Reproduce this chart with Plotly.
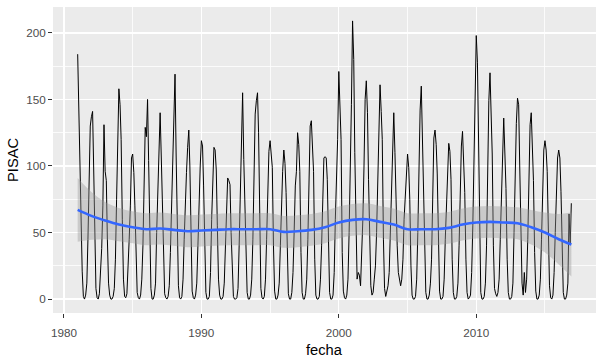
import datetime as dt
import plotly.graph_objects as go

# ---- data (monthly PISAC values, Jan..Dec per year, 1981-2016) ----
years = list(range(1981, 2017))
pisac = [
    184, 139, 104, 44, 21, 2, 0, 3, 12, 45, 89, 130,   # 1981
    137, 141, 100, 40, 8, 1, 0, 4, 18, 38, 70, 131,    # 1982
    96, 89, 45, 12, 3, 0, 0, 2, 8, 30, 75, 118,        # 1983
    158, 146, 120, 60, 15, 2, 1, 4, 20, 45, 70, 106,   # 1984
    109, 95, 70, 30, 5, 1, 0, 3, 15, 40, 85, 129,      # 1985
    122, 150, 104, 45, 8, 0, 0, 3, 12, 50, 85, 110,    # 1986
    140, 106, 70, 25, 4, 1, 0, 2, 10, 35, 70, 102,     # 1987
    134, 169, 109, 50, 10, 1, 0, 2, 15, 45, 80, 95,    # 1988
    114, 127, 100, 40, 6, 1, 0, 3, 12, 40, 75, 100,    # 1989
    119, 115, 85, 30, 5, 0, 0, 2, 20, 60, 90, 114,     # 1990
    112, 97, 55, 15, 3, 0, 0, 2, 12, 35, 70, 91,       # 1991
    89, 86, 50, 15, 2, 0, 0, 1, 8, 40, 80, 125,        # 1992
    155, 105, 75, 30, 5, 0, 0, 3, 15, 45, 90, 139,     # 1993
    149, 155, 125, 50, 8, 1, 0, 2, 15, 45, 85, 111,    # 1994
    119, 111, 99, 40, 6, 0, 0, 3, 12, 40, 80, 96,      # 1995
    112, 102, 80, 30, 4, 0, 0, 5, 20, 50, 85, 96,      # 1996
    125, 116, 96, 35, 5, 0, 0, 4, 15, 45, 90, 130,     # 1997
    134, 115, 96, 30, 3, 0, 0, 2, 15, 40, 80, 106,     # 1998
    107, 106, 90, 30, 5, 0, 0, 3, 20, 60, 87, 120,     # 1999
    171, 145, 120, 35, 6, 1, 0, 3, 15, 50, 87, 146,    # 2000
    209, 180, 110, 60, 15, 20, 18, 10, 30, 60, 100, 150,  # 2001
    164, 140, 90, 40, 10, 3, 5, 15, 25, 50, 90, 124,   # 2002
    161, 141, 120, 45, 8, 2, 5, 10, 20, 50, 90, 126,   # 2003
    140, 110, 70, 40, 20, 14, 10, 15, 30, 60, 80, 99,  # 2004
    109, 99, 75, 25, 3, 0, 0, 2, 15, 50, 109, 142,     # 2005
    160, 121, 90, 35, 5, 0, 0, 3, 12, 30, 70, 121,     # 2006
    127, 116, 94, 35, 6, 0, 0, 2, 15, 45, 75, 101,     # 2007
    117, 111, 90, 30, 5, 0, 0, 2, 12, 40, 80, 115,     # 2008
    126, 96, 80, 30, 5, 0, 1, 3, 20, 55, 100, 147,     # 2009
    198, 178, 129, 40, 5, 0, 0, 2, 12, 40, 100, 149,   # 2010
    170, 129, 109, 40, 8, 4, 2, 5, 15, 45, 80, 100,    # 2011
    136, 109, 83, 30, 5, 0, 0, 2, 12, 50, 95, 132,     # 2012
    151, 146, 100, 40, 12, 3, 20, 5, 15, 45, 90, 131,  # 2013
    140, 109, 89, 35, 6, 0, 0, 3, 15, 45, 80, 112,     # 2014
    119, 112, 96, 45, 10, 1, 0, 3, 20, 50, 85, 106,    # 2015
    112, 106, 81, 30, 5, 0, 0, 3, 12, 64, 41, 72,      # 2016
]

# loess smooth (fractional year, fit, half-width of band)
smooth_year = [1981.0, 1982, 1983, 1984, 1985, 1986, 1987, 1988, 1989, 1990,
               1991, 1992, 1993, 1994, 1995, 1996, 1997, 1998, 1999, 2000,
               2001, 2002, 2003, 2004, 2005, 2006, 2007, 2008, 2009, 2010,
               2011, 2012, 2013, 2014, 2015, 2016, 2016.92]
smooth_fit = [67, 62.5, 59, 56, 54, 52.5, 53, 52, 51, 51.5,
              52, 52.5, 52.5, 52.5, 52.5, 50.5, 51, 52, 54, 57.5,
              59.5, 60, 58, 56, 52.5, 52.5, 52.5, 53.5, 56, 57.5,
              58, 57.5, 57, 54, 50, 45, 41]
smooth_se = [24, 18, 14, 12.5, 12, 12, 12, 12, 12, 12,
             12, 12, 12, 12, 12, 12, 12, 12, 12, 12,
             12, 12, 12, 12, 12, 12, 12, 12, 12, 12,
             12, 12, 12, 13, 15, 19, 24]

x_major = ["1980", "1990", "2000", "2010"]
x_minor = ["1985", "1995", "2005", "2015"]
y_major = [0, 50, 100, 150, 200]
y_minor = [25, 75, 125, 175]

# ---- build ----
dates = [dt.datetime(y, m, 1) for y in years for m in range(1, 13)]


def frac_to_date(f):
    y = int(f)
    start = dt.datetime(y, 1, 1)
    end = dt.datetime(y + 1, 1, 1)
    return start + (end - start) * (f - y)


sm_dates = [frac_to_date(f) for f in smooth_year]
upper = [f + s for f, s in zip(smooth_fit, smooth_se)]
lower = [f - s for f, s in zip(smooth_fit, smooth_se)]

x0, x1 = min(dates), max(dates)
xpad = (x1 - x0) * 0.05
y0, y1 = min(pisac), max(pisac)
ypad = (y1 - y0) * 0.05

fig = go.Figure()
fig.add_trace(go.Scatter(x=dates, y=pisac, mode="lines",
                         line=dict(color="black", width=1), hoverinfo="skip"))
fig.add_trace(go.Scatter(x=sm_dates, y=lower, mode="lines",
                         line=dict(width=0, shape="spline"), hoverinfo="skip"))
fig.add_trace(go.Scatter(x=sm_dates, y=upper, mode="lines", fill="tonexty",
                         fillcolor="rgba(153,153,153,0.4)",
                         line=dict(width=0, shape="spline"), hoverinfo="skip"))
fig.add_trace(go.Scatter(x=sm_dates, y=smooth_fit, mode="lines",
                         line=dict(color="#3366FF", width=2.6, shape="spline"),
                         hoverinfo="skip"))

FONT = "Liberation Sans, Arial, sans-serif"
tickfont = dict(family=FONT, size=11.7, color="#4D4D4D")
titlefont = dict(family=FONT, size=14.7, color="black")

fig.update_layout(
    width=604, height=359,
    margin=dict(l=53, r=8, t=7, b=46, autoexpand=False),
    paper_bgcolor="white", plot_bgcolor="#EBEBEB",
    showlegend=False,
    xaxis=dict(
        type="date", range=[x0 - xpad, x1 + xpad], automargin=False,
        tickmode="array",
        tickvals=[dt.datetime(int(v), 1, 1) for v in x_major], ticktext=x_major,
        ticks="outside", ticklen=4, tickwidth=1, tickcolor="#333333",
        ticklabelstandoff=5,
        showgrid=True, gridcolor="white", gridwidth=1.4,
        minor=dict(tickmode="array",
                   tickvals=[dt.datetime(int(v), 1, 1) for v in x_minor],
                   showgrid=True, gridcolor="white", gridwidth=0.8),
        zeroline=False, showline=False,
        tickfont=tickfont,
    ),
    yaxis=dict(
        range=[y0 - ypad, y1 + ypad], automargin=False,
        tickmode="array", tickvals=y_major, ticktext=[str(v) for v in y_major],
        ticks="outside", ticklen=4, tickwidth=1, tickcolor="#333333",
        ticklabelstandoff=0,
        showgrid=True, gridcolor="white", gridwidth=1.4,
        minor=dict(tickmode="array", tickvals=y_minor,
                   showgrid=True, gridcolor="white", gridwidth=0.8),
        zeroline=False, showline=False,
        tickfont=tickfont,
    ),
    annotations=[
        dict(text="fecha", xref="paper", yref="paper", x=0.5, y=0,
             xanchor="center", yanchor="middle", yshift=-37,
             showarrow=False, font=titlefont),
        dict(text="PISAC", xref="paper", yref="paper", x=0, y=0.5,
             xanchor="center", yanchor="middle", xshift=-40, textangle=-90,
             showarrow=False, font=titlefont),
    ],
)

fig.write_html(
    "out.html",
    config={"displayModeBar": False, "staticPlot": True},
    post_script="document.body.style.margin='0';document.body.style.padding='0';"
                "document.body.style.overflow='hidden';",
)
